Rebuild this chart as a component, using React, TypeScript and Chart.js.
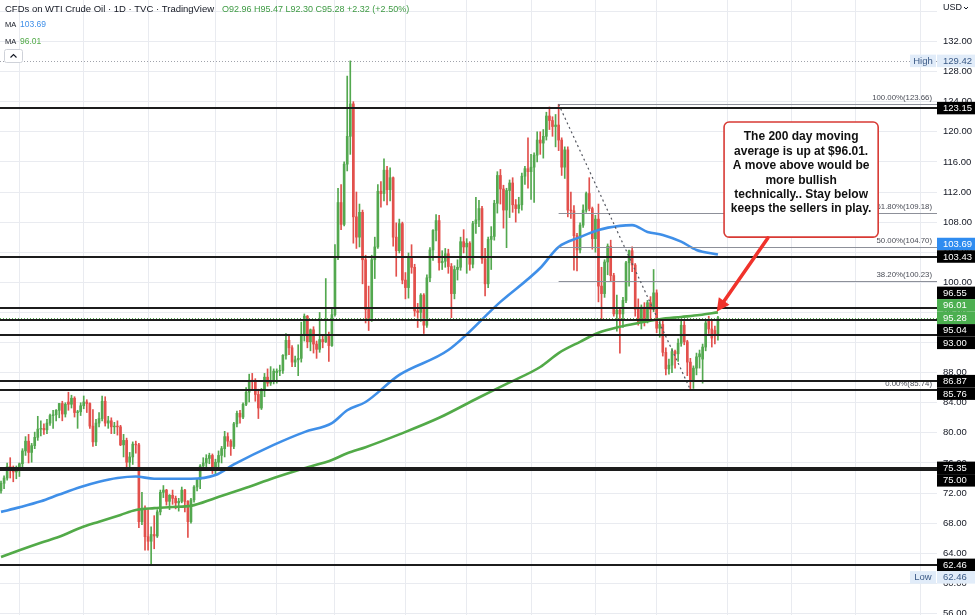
import React, { useEffect, useRef } from "react";
import { Chart, registerables } from "chart.js";
Chart.register(...registerables);

// Daily bars [open, high, low, close], from late Sep 2021 to 29 Aug 2022
const candles: number[][] = [
  [72.3,73.6,72.0,73.3],[73.3,74.3,72.6,74.0],[74.0,76.0,73.7,75.5],[75.5,76.7,74.0,75.3],[75.3,75.6,73.5,74.8],
  [74.8,75.6,73.9,75.0],[75.0,76.0,74.2,75.9],[75.9,77.9,75.3,77.6],[77.6,79.5,77.0,78.9],[78.9,79.8,76.0,77.4],
  [77.4,78.6,76.1,78.3],[78.3,80.1,77.9,79.4],[79.4,82.2,79.0,80.5],[80.5,81.6,79.6,80.6],[80.6,81.2,79.8,80.4],
  [80.4,81.8,79.9,81.3],[81.3,82.5,81.0,82.3],[82.3,83.0,80.6,82.4],[82.4,83.1,81.6,83.0],[83.0,83.9,82.0,83.9],
  [83.9,84.2,81.6,82.5],[82.5,84.0,82.1,83.8],[84.1,85.4,83.0,83.8],[83.8,85.0,83.3,84.6],[84.6,84.8,82.1,82.7],
  [82.7,83.0,80.6,82.8],[82.8,84.0,82.3,83.6],[83.6,84.9,83.2,84.1],[84.1,84.4,82.7,83.9],[83.9,84.0,80.6,80.9],
  [80.9,83.1,78.2,78.8],[78.8,81.8,78.3,81.3],[81.3,82.7,80.8,81.9],[81.9,84.9,81.6,84.2],[84.2,84.8,80.9,81.3],
  [81.3,82.2,80.6,81.6],[81.6,82.0,79.9,80.8],[80.8,81.4,79.9,80.9],[80.9,81.6,79.7,80.8],[80.8,81.0,78.3,78.4],
  [78.4,79.8,76.8,79.0],[79.0,79.3,75.3,76.1],[76.1,77.4,75.2,76.8],[76.8,78.8,75.8,78.5],[78.5,78.9,77.3,78.4],
  [78.4,78.6,67.4,68.2],[68.2,72.1,67.8,70.0],[70.0,70.3,64.4,66.2],[66.2,69.8,64.4,65.6],[65.6,67.5,62.46,66.5],
  [66.5,69.0,64.6,66.3],[66.3,69.8,66.1,69.5],[69.5,72.4,69.1,72.1],[72.1,73.0,71.4,72.4],[72.4,72.5,70.4,70.9],
  [70.9,71.8,69.8,71.7],[71.7,72.4,70.5,71.3],[71.3,71.6,69.9,70.7],[70.7,71.3,69.6,70.9],[70.9,72.8,70.7,72.4],
  [72.4,72.5,69.5,70.9],[70.9,71.0,66.1,68.2],[68.2,71.3,68.0,71.1],[71.1,73.0,70.8,72.8],[72.8,73.9,72.3,73.8],
  [73.8,75.8,72.6,75.6],[75.6,76.7,75.4,76.0],[76.0,77.1,75.3,76.6],[76.6,77.3,75.9,77.0],[77.0,77.2,74.6,75.2],
  [75.2,76.5,74.3,76.1],[76.1,77.6,75.4,77.0],[77.0,78.2,76.0,77.9],[77.9,80.2,76.8,79.5],[79.5,80.0,78.2,78.9],
  [78.9,79.1,77.0,78.2],[78.2,81.4,77.9,81.2],[81.2,82.9,80.8,82.6],[82.6,83.0,81.3,82.1],[82.1,84.0,81.9,83.8],
  [83.8,86.0,83.6,85.4],[85.4,87.8,84.1,87.0],[87.0,87.9,85.7,86.9],[86.9,87.2,84.2,85.1],[85.1,85.8,81.9,83.3],
  [83.3,85.9,83.1,85.6],[85.6,87.9,84.8,87.4],[87.4,88.5,86.2,86.6],[86.6,88.8,86.3,86.8],[86.8,88.5,86.5,88.2],
  [88.0,88.5,86.6,88.2],[88.2,89.0,87.6,88.3],[88.3,90.4,87.9,90.3],[90.3,93.2,89.8,92.3],[92.3,93.0,90.4,91.3],
  [91.3,91.6,88.8,89.4],[89.4,90.2,88.8,89.7],[89.7,91.7,87.6,89.9],[89.9,94.7,89.4,93.1],[93.1,95.8,92.2,95.5],
  [95.5,95.6,91.3,92.1],[92.1,93.8,90.9,93.7],[93.7,94.1,90.6,91.8],[91.8,92.2,89.9,91.1],[91.1,96.0,90.7,92.4],
  [92.4,93.0,91.3,92.1],[92.1,100.5,92.0,92.8],[92.8,93.4,89.5,91.6],[91.6,96.4,91.5,95.7],[95.7,105.0,95.5,103.4],
  [103.4,112.5,103.0,110.6],[110.6,113.0,107.0,107.7],[107.7,116.0,107.5,115.7],[115.7,127.4,114.8,119.4],[119.4,129.42,117.0,123.7],
  [123.7,124.0,105.2,108.7],[108.7,112.0,104.5,106.0],[106.0,110.4,104.7,109.3],[109.3,109.6,99.8,103.0],[103.0,103.6,94.6,96.4],
  [96.4,99.5,93.6,95.0],[95.0,103.6,94.8,103.0],[103.0,106.0,100.5,104.7],[104.7,113.0,104.5,112.1],[112.1,113.4,110.0,111.8],
  [111.8,116.4,110.8,114.9],[114.9,115.4,110.3,112.3],[112.3,115.2,110.8,113.9],[113.9,114.0,104.8,106.0],[106.0,107.9,100.8,104.2],
  [104.2,108.4,103.9,107.8],[107.8,108.0,99.8,100.3],[100.3,101.3,97.8,99.3],[99.3,103.9,97.9,103.3],[103.3,105.0,101.2,102.0],
  [102.0,102.4,95.5,96.2],[96.2,97.2,94.0,96.0],[96.0,98.5,94.8,98.3],[98.3,98.5,93.2,94.3],[94.3,101.0,94.0,100.6],
  [100.6,104.6,100.1,104.3],[104.3,107.0,102.9,106.9],[106.9,109.0,105.5,108.2],[108.2,108.9,101.6,102.6],[102.6,104.2,101.7,102.8],
  [102.8,104.5,102.0,103.8],[103.8,104.4,101.2,102.1],[102.1,102.5,95.3,98.5],[98.5,102.2,97.8,101.7],[101.7,103.0,100.3,102.0],
  [102.0,106.0,101.6,105.4],[105.4,107.0,103.9,104.7],[104.7,105.8,101.2,105.2],[105.2,105.4,101.6,102.4],[102.4,108.1,101.9,107.8],
  [107.8,111.3,106.5,108.3],[108.3,110.9,107.4,109.8],[109.8,110.1,102.5,103.1],[103.1,104.5,98.2,99.8],[99.8,106.0,99.3,105.7],
  [105.7,107.4,101.7,106.1],[106.1,110.9,105.6,110.5],[110.5,114.7,109.2,114.2],[114.2,115.0,110.4,112.4],[112.4,112.9,107.2,109.6],
  [109.6,112.5,104.6,112.2],[112.2,113.6,108.6,113.2],[113.2,113.9,109.3,110.3],[110.3,111.0,108.0,109.8],[109.8,111.3,109.2,110.3],
  [110.3,114.5,109.6,114.1],[114.1,115.4,113.0,115.1],[115.1,119.2,112.5,114.7],[114.7,117.0,111.0,115.3],[115.3,117.2,110.6,116.9],
  [116.9,120.0,116.0,118.9],[118.9,120.0,117.0,118.5],[118.5,120.3,116.5,119.4],[119.4,122.6,118.9,122.1],[122.1,123.3,120.3,121.5],
  [121.5,122.0,119.4,120.7],[120.7,122.3,118.0,120.9],[120.9,123.66,117.5,118.9],[118.9,119.2,114.2,115.3],[115.3,118.0,113.8,117.6],
  [117.6,118.0,108.7,109.6],[109.6,112.0,108.5,109.5],[109.5,110.2,101.6,106.2],[106.2,106.5,101.5,104.3],[104.3,107.9,103.9,107.6],
  [107.6,110.3,107.3,109.6],[109.6,112.0,109.3,111.8],[111.8,113.9,109.5,109.8],[109.8,110.0,104.4,105.8],[105.8,108.9,104.0,108.4],
  [108.4,110.4,97.4,99.5],[99.5,102.0,95.1,98.5],[98.5,103.0,98.0,102.7],[102.7,105.1,101.0,104.8],[104.8,105.6,100.2,100.9],
  [100.9,101.2,95.5,95.8],[95.8,98.3,93.5,96.3],[96.3,96.6,90.6,95.8],[95.8,98.0,94.0,97.6],[97.6,102.8,97.3,102.6],
  [102.6,104.3,99.5,104.2],[104.2,104.7,101.4,102.3],[102.3,102.5,95.5,96.4],[96.4,97.8,94.3,94.7],[94.7,97.0,93.8,96.7],
  [96.7,97.3,94.2,95.0],[95.0,97.6,94.6,97.3],[97.3,98.1,95.0,96.4],[96.4,101.7,96.1,98.6],[98.6,99.0,93.3,93.9],
  [93.9,95.0,92.7,94.4],[94.4,95.0,90.2,90.7],[90.7,91.3,87.7,88.5],[88.5,89.8,87.8,89.0],[89.0,91.2,88.0,90.8],
  [90.8,91.0,88.6,90.5],[90.5,92.5,89.5,91.9],[91.9,94.9,91.5,94.3],[94.3,94.8,91.7,92.1],[92.1,92.3,87.6,89.4],
  [89.4,89.9,85.74,86.9],[86.9,88.9,85.9,88.6],[88.6,90.6,87.7,90.1],[90.1,91.0,88.6,90.5],[89.8,91.8,86.6,91.4],
  [91.4,95.0,90.9,94.6],[94.9,95.5,93.2,93.8],[93.8,95.0,91.4,92.6],[93.6,94.2,91.8,92.96],[92.96,95.47,92.3,95.28],
];

// Moving averages: [bar index, value]
const ma100Points: number[][] = [
  [0,69.5],[6,70.1],[13,70.9],[19,71.8],[26,72.8],[32,73.5],[38,74.0],[44,74.2],[50,73.9],[56,73.9],[62,73.9],
  [70,74.4],[76,75.8],[89,78.4],[99,80.1],[108,81.3],[113,83.0],[119,84.1],[130,87.7],[146,91.0],[163,97.4],
  [176,101.9],[182,104.7],[189,106.0],[195,106.95],[202,107.5],[206,107.6],[211,106.7],[216,106.3],[222,105.4],
  [227,104.3],[234,103.69],
];
const ma200Points: number[][] = [
  [0,63.5],[6,64.4],[13,65.4],[19,66.2],[26,67.4],[32,68.2],[39,69.1],[44,69.75],[50,70.0],[56,70.15],[62,70.3],
  [70,71.35],[80,72.7],[89,74.0],[99,75.3],[108,76.4],[113,77.3],[119,78.1],[130,79.8],[143,82.0],[156,84.7],
  [166,86.7],[176,88.75],[182,90.6],[189,92.1],[195,93.3],[202,94.1],[208,94.6],[215,95.1],[222,95.4],[228,95.66],
  [234,96.01],
];

const levelLines = [123.15, 103.43, 96.55, 95.04, 93.0, 86.87, 85.76, 75.35, 75.0, 62.46];
const fibPrices = [123.66, 109.18, 104.7, 100.23, 85.74];
const fibRatioLabels = ["100.00%", "61.80%", "50.00%", "38.20%", "0.00%"];
const fibStartIndex = 182;
const fibEndIndex = 225;
const monthStartIndex = [6, 27, 48, 70, 90, 109, 132, 152, 173, 194, 214, 237, 258, 279, 300];
const highPrice = 129.42;
const lowPrice = 62.46;
const maLast = [103.69, 96.01];
const lastBar = { o: 92.96, h: 95.47, l: 92.3, c: 95.28, chg: 2.32, pct: 2.5 };
const titleText = "CFDs on WTI Crude Oil · 1D · TVC · TradingView";
const noteLines = [
  "The 200 day moving",
  "average is up at $96.01.",
  "A move above would be",
  "more bullish",
  "technically.. Stay below",
  "keeps the sellers in play.",
];
// annotation anchor in data space: [index left, index right, price top, price bottom]
const noteBox = [236, 286.3, 121.3, 106.0];
const arrowFrom = [250.3, 105.9];
const arrowTo = [233.6, 96.1];

const UP = "#53a84f";
const DOWN = "#e2504c";
const BLUE = "#3f8fe8";
const GREEN_MA = "#52aa48";
const FONT = '"Liberation Sans", Arial, sans-serif';

const overlay = {
  id: "overlay",
  afterDatasetsDraw(chart: any) {
    const { ctx, chartArea: a, scales } = chart;
    const X = (v: number) => scales.x.getPixelForValue(v);
    const Y = (v: number) => scales.y.getPixelForValue(v);
    const seg = (x1: number, y1: number, x2: number, y2: number) => {
      ctx.beginPath(); ctx.moveTo(x1, y1); ctx.lineTo(x2, y2); ctx.stroke();
    };
    ctx.save();
    ctx.beginPath(); ctx.rect(a.left, a.top, a.right - a.left, a.bottom - a.top); ctx.clip();

    // high dotted marker line
    ctx.strokeStyle = "#a0a3ab"; ctx.lineWidth = 1; ctx.setLineDash([1, 2]);
    const yh = Math.round(Y(highPrice)) + 0.5;
    seg(a.left, yh, a.right, yh);
    ctx.setLineDash([]);

    // fibonacci retracement
    ctx.strokeStyle = "#8d9099"; ctx.lineWidth = 1;
    ctx.font = `7.8px ${FONT}`; ctx.fillStyle = "#4a4d57"; ctx.textAlign = "right"; ctx.textBaseline = "bottom";
    fibPrices.forEach((p, k) => {
      const y = Math.round(Y(p)) + 0.5;
      seg(X(fibStartIndex), y, a.right, y);
      ctx.fillText(`${fibRatioLabels[k]}(${p.toFixed(2)})`, a.right - 5, y - 2.5);
    });
    ctx.setLineDash([2, 3]); ctx.strokeStyle = "#555861"; ctx.lineWidth = 1.2;
    seg(X(fibStartIndex), Y(fibPrices[0]), X(fibEndIndex), Y(fibPrices[fibPrices.length - 1]));
    ctx.setLineDash([]);

    // current price dotted line
    ctx.strokeStyle = UP; ctx.lineWidth = 1; ctx.setLineDash([1, 2]);
    const yc = Math.round(Y(lastBar.c)) + 0.5;
    seg(a.left, yc, a.right, yc);
    ctx.setLineDash([]);

    // horizontal levels
    ctx.strokeStyle = "#1c1c1c"; ctx.lineWidth = 2;
    levelLines.forEach((p) => {
      const y = Math.round(Y(p));
      seg(a.left, y, a.right, y);
    });

    // annotation box
    const bx = X(noteBox[0]), bx2 = X(noteBox[1]), by = Y(noteBox[2]), by2 = Y(noteBox[3]);
    ctx.beginPath();
    ctx.roundRect(bx, by, bx2 - bx, by2 - by, 5);
    ctx.fillStyle = "#ffffff"; ctx.fill();
    ctx.strokeStyle = "#d83a34"; ctx.lineWidth = 1.6; ctx.stroke();
    ctx.fillStyle = "#111111"; ctx.font = `bold 12px ${FONT}`; ctx.textAlign = "center"; ctx.textBaseline = "middle";
    noteLines.forEach((t, k) => ctx.fillText(t, (bx + bx2) / 2, by + 15 + k * 14.4));

    // arrow
    const ax1 = X(arrowFrom[0]), ay1 = Y(arrowFrom[1]), ax2 = X(arrowTo[0]), ay2 = Y(arrowTo[1]);
    const ang = Math.atan2(ay2 - ay1, ax2 - ax1);
    const head = 13, hw = 6.5;
    const bxh = ax2 - Math.cos(ang) * head, byh = ay2 - Math.sin(ang) * head;
    ctx.strokeStyle = "#f0322b"; ctx.fillStyle = "#f0322b"; ctx.lineWidth = 3.5; ctx.lineCap = "round";
    seg(ax1, ay1, bxh, byh);
    ctx.beginPath();
    ctx.moveTo(ax2, ay2);
    ctx.lineTo(bxh + Math.sin(ang) * hw, byh - Math.cos(ang) * hw);
    ctx.lineTo(bxh - Math.sin(ang) * hw, byh + Math.cos(ang) * hw);
    ctx.closePath(); ctx.fill();
    ctx.restore();
  },
  afterDraw(chart: any) {
    const { ctx, chartArea: a, scales, width } = chart;
    const Y = (v: number) => scales.y.getPixelForValue(v);
    ctx.save();

    // price-axis tags with overlap resolution
    type Tag = { price: number; text: string; bg: string; fg: string; prio: number; pin?: boolean };
    const tags: Tag[] = [
      { price: lastBar.c, text: lastBar.c.toFixed(2), bg: "#4caf50", fg: "#fff", prio: 0 },
      ...levelLines.map((p) => ({ price: p, text: p.toFixed(2), bg: "#000", fg: "#fff", prio: 1 })),
      { price: maLast[0], text: maLast[0].toFixed(2), bg: "#2f8cf0", fg: "#fff", prio: 2 },
      { price: maLast[1], text: maLast[1].toFixed(2), bg: "#4caf50", fg: "#fff", prio: 2 },
      { price: highPrice, text: highPrice.toFixed(2), bg: "#e1ecf9", fg: "#3b5a86", prio: 3 },
      { price: lowPrice, text: lowPrice.toFixed(2), bg: "#e1ecf9", fg: "#3b5a86", prio: 3 },
    ];
    const h = 12.5;
    const placed: { tag: Tag; y: number }[] = [];
    [...tags].sort((p, q) => p.prio - q.prio || q.price - p.price).forEach((t) => {
      const ideal = Y(t.price);
      const cands = [ideal];
      placed.forEach((p) => cands.push(p.y - h, p.y + h));
      const ok = cands.filter((c) => placed.every((p) => Math.abs(c - p.y) >= h - 0.01));
      let best = ok[0];
      ok.forEach((c) => {
        const d = Math.abs(c - ideal), db = Math.abs(best - ideal);
        if (d < db - 0.01 || (Math.abs(d - db) <= 0.01 && c > best)) best = c;
      });
      placed.push({ tag: t, y: best });
    });
    const slots = placed.map((p) => p.y).sort((p, q) => p - q);
    const ordered = placed.map((p) => p.tag).sort((p, q) => q.price - p.price || p.prio - q.prio);
    ctx.font = `9.5px ${FONT}`; ctx.textBaseline = "middle"; ctx.textAlign = "left";
    ordered.forEach((t, k) => {
      const y = slots[k];
      ctx.fillStyle = t.bg;
      ctx.fillRect(a.right, y - h / 2, width - a.right, h);
      ctx.fillStyle = t.fg;
      ctx.fillText(t.text, a.right + 6, y + 0.5);
      if (t.prio === 3) {
        const lbl = t.price === highPrice ? "High" : "Low";
        ctx.fillStyle = t.bg;
        ctx.fillRect(a.right - 27, y - h / 2, 26, h);
        ctx.fillStyle = t.fg; ctx.textAlign = "center";
        ctx.fillText(lbl, a.right - 14, y + 0.5);
        ctx.textAlign = "left";
      }
    });

    // currency header
    ctx.fillStyle = "#ffffff"; ctx.fillRect(a.right, 0, width - a.right, 17);
    ctx.fillStyle = "#131722"; ctx.font = `9px ${FONT}`; ctx.textBaseline = "middle";
    ctx.fillText("USD", a.right + 6, 8);
    ctx.strokeStyle = "#131722"; ctx.lineWidth = 1;
    ctx.beginPath(); ctx.moveTo(a.right + 27, 7); ctx.lineTo(a.right + 29, 9); ctx.lineTo(a.right + 31, 7); ctx.stroke();

    // legend
    ctx.textAlign = "left";
    ctx.font = `9.5px ${FONT}`; ctx.fillStyle = "#131722";
    ctx.fillText(titleText, 5, 9.5);
    ctx.font = `9px ${FONT}`; ctx.fillStyle = "#3f9b44";
    const ohlc = `O${lastBar.o.toFixed(2)} H${lastBar.h.toFixed(2)} L${lastBar.l.toFixed(2)} C${lastBar.c.toFixed(2)} +${lastBar.chg.toFixed(2)} (+${lastBar.pct.toFixed(2)}%)`;
    ctx.fillText(ohlc, 222, 9.5);
    ctx.font = `7.5px ${FONT}`; ctx.fillStyle = "#131722";
    ctx.fillText("MA", 5, 25); ctx.fillText("MA", 5, 41.5);
    ctx.font = `8.5px ${FONT}`;
    ctx.fillStyle = BLUE; ctx.fillText(maLast[0].toFixed(2), 20, 25);
    ctx.fillStyle = GREEN_MA; ctx.fillText(maLast[1].toFixed(2), 20, 41.5);
    ctx.strokeStyle = "#cfd2d9"; ctx.lineWidth = 1;
    ctx.beginPath(); ctx.roundRect(4.5, 49.5, 18, 13, 2); ctx.fillStyle = "#fff"; ctx.fill(); ctx.stroke();
    ctx.strokeStyle = "#131722"; ctx.lineWidth = 1.1;
    ctx.beginPath(); ctx.moveTo(10.5, 57.5); ctx.lineTo(13.5, 54.5); ctx.lineTo(16.5, 57.5); ctx.stroke();
    ctx.restore();
  },
};

export default function App() {
  const ref = useRef<HTMLCanvasElement | null>(null);
  useEffect(() => {
    document.body.style.margin = "0";
    const upDown = candles.map((c) => (c[3] >= c[0] ? UP : DOWN));
    const bodies = candles.map((c, i) => {
      const lo = Math.min(c[0], c[3]), hi = Math.max(c[0], c[3]);
      return { x: i, y: hi - lo < 0.08 ? [lo - 0.04, hi + 0.04] : [lo, hi] };
    });
    const wicks = candles.map((c, i) => ({ x: i, y: [c[2], c[1]] }));
    const gridColor = "#e9ebf0";
    const chart = new Chart(ref.current as HTMLCanvasElement, {
      type: "bar",
      data: {
        datasets: [
          {
            type: "line", label: "MA 100", data: ma100Points.map((p) => ({ x: p[0], y: p[1] })),
            borderColor: BLUE, borderWidth: 2.6, pointRadius: 0, cubicInterpolationMode: "monotone", order: 0,
          } as any,
          {
            type: "line", label: "MA 200", data: ma200Points.map((p) => ({ x: p[0], y: p[1] })),
            borderColor: GREEN_MA, borderWidth: 2.6, pointRadius: 0, cubicInterpolationMode: "monotone", order: 0,
          } as any,
          {
            type: "bar", label: "bodies", data: bodies as any, backgroundColor: upDown,
            barThickness: 2, grouped: false, borderWidth: 0, order: 1,
          } as any,
          {
            type: "bar", label: "wicks", data: wicks as any, backgroundColor: upDown,
            barThickness: 1, grouped: false, borderWidth: 0, order: 2,
          } as any,
        ],
      },
      options: {
        animation: false,
        responsive: true,
        maintainAspectRatio: false,
        devicePixelRatio: 1,
        layout: { padding: 0 },
        events: [],
        plugins: { legend: { display: false }, tooltip: { enabled: false } },
        scales: {
          x: {
            type: "linear", min: -0.33, max: 305.5, offset: false,
            grid: { color: gridColor, drawTicks: false, offset: false },
            border: { display: false },
            ticks: { display: false },
            afterBuildTicks: (s: any) => { s.ticks = monthStartIndex.map((v) => ({ value: v })); },
            afterFit: (s: any) => { s.height = 0; s.paddingLeft = 0; s.paddingRight = 0; },
          },
          y: {
            position: "right", min: 55.8, max: 137.51,
            grid: { color: gridColor, drawTicks: false },
            border: { display: false },
            ticks: {
              stepSize: 4, includeBounds: false, padding: 6, color: "#131722",
              font: { family: FONT, size: 9.5 },
              callback: (v: any) => Number(v).toFixed(2),
            },
            afterFit: (s: any) => { s.width = 38; s.paddingTop = 0; s.paddingBottom = 0; },
          },
        },
      } as any,
      plugins: [overlay],
    });
    return () => chart.destroy();
  }, []);
  return (
    <div style={{ width: 975, height: 615, position: "relative" }}>
      <canvas ref={ref} />
    </div>
  );
}
